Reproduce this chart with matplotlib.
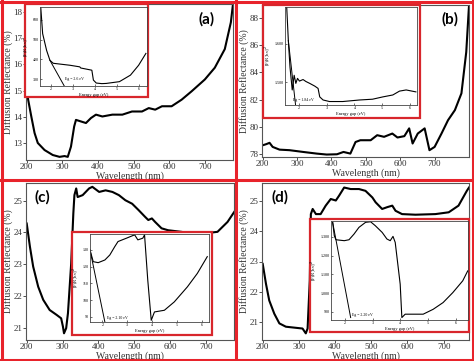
import matplotlib
matplotlib.use("Agg")
import matplotlib.pyplot as plt
from matplotlib.patches import Rectangle
from matplotlib.lines import Line2D

plt.rcParams['font.family'] = ['Liberation Serif', 'DejaVu Serif']

W, H = 474, 361
RED = '#e8232b'

# ---- panel (a) ----
wl_a = [200, 204, 213, 222, 231, 250, 273, 292, 306, 315, 324, 333, 338, 352, 366, 380, 394,
        412, 440, 468, 495, 523, 542, 560, 579, 606, 634, 662, 699, 727, 755, 772, 778]
r_a = [15.23, 14.65, 14.0, 13.38, 13.0, 12.73, 12.54, 12.47, 12.5, 12.47, 12.86, 13.63, 13.88,
       13.82, 13.76, 13.95, 14.08, 14.01, 14.08, 14.08, 14.2, 14.2, 14.33, 14.27, 14.4, 14.4,
       14.65, 14.97, 15.42, 15.87, 16.58, 17.6, 18.3]
ev_a = [1.53, 1.62, 1.8, 1.95, 2.1, 2.86, 3.3, 3.35, 3.4, 3.85, 3.92, 4.05, 4.3, 4.5, 5.1, 5.6,
        5.97, 6.3]
f_a = [670, 530, 445, 395, 380, 370, 362, 356, 355, 345, 295, 280, 277, 278, 287, 320, 370, 430]
tan_a_x = [1.95, 2.6]
tan_a_y = [395, 265]

# ---- panel (b) ----
wl_b = [200, 210, 220, 229, 249, 278, 318, 357, 386, 416, 435, 455, 470, 484, 514, 533, 553,
        577, 592, 612, 626, 636, 651, 671, 685, 700, 720, 739, 759, 778, 792, 800]
r_b = [78.66, 78.74, 78.84, 78.54, 78.34, 78.3, 78.17, 78.05, 77.98, 78.0, 78.17, 78.05, 78.9,
       79.03, 79.03, 79.4, 79.28, 79.52, 79.23, 79.33, 79.9, 78.79, 79.52, 79.9, 78.3, 78.54,
       79.52, 80.5, 81.24, 82.47, 85.5, 88.9]
ev_b = [1.56, 1.62, 1.68, 1.76, 1.83, 1.89, 1.95, 2.02, 2.15, 2.25, 2.39, 2.57, 2.69, 2.75,
        2.87, 3.1, 3.58, 4.18, 4.65, 5.02, 5.38, 5.62, 5.86, 6.21]
f_b = [1.697, 1.608, 1.539, 1.48, 1.518, 1.497, 1.51, 1.503, 1.507, 1.502, 1.497, 1.49, 1.484,
       1.462, 1.454, 1.45, 1.45, 1.454, 1.456, 1.462, 1.467, 1.477, 1.48, 1.475]
tan_b_x = [1.62, 1.88]
tan_b_y = [1.608, 1.441]

# ---- panel (c) ----
wl_c = [200, 209, 218, 232, 246, 264, 283, 296, 301, 304, 310, 315, 324, 330, 333, 338, 342,
        356, 374, 383, 402, 420, 439, 457, 475, 494, 512, 530, 539, 549, 558, 576, 594, 631,
        659, 695, 732, 760, 779]
r_c = [24.28, 23.55, 22.93, 22.3, 21.89, 21.57, 21.42, 21.31, 21.05, 20.84, 21.0, 21.47, 23.03,
       24.6, 25.17, 25.38, 25.11, 25.17, 25.38, 25.43, 25.27, 25.32, 25.27, 25.17, 25.01, 24.9,
       24.7, 24.49, 24.39, 24.44, 24.33, 24.13, 24.07, 24.02, 23.97, 23.97, 24.02, 24.33, 24.65]
ev_c = [1.5, 1.63, 1.83, 2.1, 2.3, 2.5, 2.63, 2.97, 3.3, 3.43, 3.63, 3.7, 3.83, 3.97, 4.1, 4.5,
        4.9, 5.43, 5.83, 6.23]
f_c = [130, 123, 122.4, 124, 127, 132, 135, 137, 139, 136, 137, 139, 112, 88, 93, 94, 99, 108,
       116, 126]
tan_c_x = [1.5, 2.1]
tan_c_y = [130, 87]

# ---- panel (d) ----
wl_d = [200, 209, 218, 232, 246, 264, 287, 310, 319, 324, 330, 333, 338, 347, 360, 374, 388,
        402, 411, 425, 443, 466, 484, 503, 512, 530, 544, 558, 567, 585, 622, 677, 714, 741,
        764, 770]
r_d = [22.92, 22.26, 21.71, 21.27, 20.95, 20.84, 20.81, 20.78, 20.62, 20.78, 22.37, 24.57, 24.74,
       24.57, 24.57, 24.85, 25.07, 25.02, 25.18, 25.45, 25.4, 25.4, 25.34, 25.12, 24.96, 24.74,
       24.8, 24.85, 24.68, 24.57, 24.55, 24.57, 24.63, 24.85, 25.34, 25.45]
ev_d = [1.56, 1.62, 1.68, 1.98, 2.15, 2.33, 2.51, 2.75, 2.93, 3.1, 3.35, 3.52, 3.64, 3.74, 3.82,
        4.0, 4.06, 4.18, 4.48, 4.83, 5.19, 5.55, 5.9, 6.26, 6.44]
f_d = [1378, 1306, 1285, 1280, 1285, 1315, 1351, 1378, 1381, 1360, 1324, 1289, 1280, 1303, 1271,
       1048, 870, 888, 888, 888, 914, 950, 1003, 1066, 1119]
tan_d_x = [1.56, 2.21]
tan_d_y = [1378, 870]


def px(l, t, r, b):
    return [l / W, 1 - b / H, (r - l) / W, (b - t) / H]


def main_axes(rect, x, y, xlim, ylim, yticks, tag, tagpos):
    ax = fig.add_axes(px(*rect))
    ax.plot(x, y, color='black', lw=1.5)
    ax.set_xlim(*xlim)
    ax.set_ylim(*ylim)
    ax.set_xticks([200, 300, 400, 500, 600, 700])
    ax.set_yticks(yticks)
    ax.tick_params(labelsize=6.5, length=2, width=0.6, pad=0.5, colors='#333')
    for s in ax.spines.values():
        s.set_color('#555')
        s.set_linewidth(0.8)
    ax.set_xlabel('Wavelength (nm)', fontsize=7, labelpad=0, color='#333')
    ax.set_ylabel('Diffusion Reflectance (%)', fontsize=7, labelpad=0.5, color='#333')
    fig.text(tagpos[0] / W, 1 - tagpos[1] / H, tag, fontsize=11, fontweight='bold',
             family='Lato', ha='center', va='center')
    return ax


def inset(rect, box, x, y, tx, ty, xlim, ylim, yticks, ylabels, eg, egpos):
    l, t, r, b = box
    fig.add_artist(Rectangle((l / W, 1 - b / H), (r - l) / W, (b - t) / H,
                             transform=fig.transFigure, facecolor='white',
                             edgecolor='#d8262c', lw=1.6, zorder=1))
    ax = fig.add_axes(px(*rect), zorder=2)
    ax.plot(x, y, color='black', lw=0.8)
    ax.plot(tx, ty, color='black', lw=0.7)
    ax.set_xlim(*xlim)
    ax.set_ylim(*ylim)
    ax.set_xticks([2, 3, 4, 5, 6])
    ax.set_yticks(yticks)
    ax.set_yticklabels(ylabels)
    ax.tick_params(labelsize=3, length=1.5, width=0.4, pad=1, direction='in')
    for s in ax.spines.values():
        s.set_color('#444')
        s.set_linewidth(0.6)
    ax.set_xlabel('Energy gap (eV)', fontsize=3.2, labelpad=1)
    ax.set_ylabel('[F(R)h\u03bd]$^2$', fontsize=3.5, labelpad=1)
    ax.text(egpos[0], egpos[1], eg, fontsize=2.8)
    return ax


fig = plt.figure(figsize=(W / 100, H / 100), dpi=100)

main_axes((26, 4, 233, 160), wl_a, r_a, (198, 778), (12.35, 18.3), [13, 14, 15, 16, 17, 18],
          '(a)', (207, 19))
inset((40, 7, 147, 86), (25, 4, 148, 97), ev_a, f_a, tan_a_x, tan_a_y, (1.5, 6.35), (265, 665),
      [300, 400, 500, 600], ['300', '400', '500', '600'], 'Eg = 2.6 eV', (2.65, 295))

main_axes((262, 5, 469, 157), wl_b, r_b, (198, 800), (77.8, 88.95), [78, 80, 82, 84, 86, 88],
          '(b)', (450, 19))
inset((285, 7, 417, 105), (263, 5, 420, 118), ev_b, f_b, tan_b_x, tan_b_y, (1.5, 6.25),
      (1.441, 1.695), [1.5, 1.6], ['1.500', '1.600'], 'Eg = 1.84 eV', (1.78, 1.452))

main_axes((26, 183, 234, 340), wl_c, r_c, (198, 778), (20.63, 25.55), [21, 22, 23, 24, 25],
          '(c)', (42, 197))
inset((90, 234, 209, 322), (72, 232, 212, 335), ev_c, f_c, tan_c_x, tan_c_y, (1.5, 6.3),
      (87, 139.5), [90, 100, 110, 120, 130], ['90', '100', '110', '120', '130'],
      'Eg = 2.10 eV', (2.2, 89))

main_axes((262, 183, 469, 340), wl_d, r_d, (198, 770), (20.4, 25.6), [21, 22, 23, 24, 25],
          '(d)', (280, 197))
inset((331, 221, 468, 320), (310, 219, 469, 332), ev_d, f_d, tan_d_x, tan_d_y, (1.5, 6.45),
      (857, 1385), [900, 1000, 1100, 1200, 1300], ['900', '1.000', '1.100', '1.200', '1.300'],
      'Eg = 2.20 eV', (2.25, 880))

# red frame and dividers
for xs, ys in [((1.5, 1.5), (0, H)), ((472.5, 472.5), (0, H)), ((0, W), (1.5, 1.5)),
               ((0, W), (359.5, 359.5)), ((236, 236), (0, H)), ((0, W), (180, 180))]:
    fig.add_artist(Line2D([v / W for v in xs], [1 - v / H for v in ys],
                          transform=fig.transFigure, color=RED, lw=2.2, zorder=5))

fig.savefig('out.png', dpi=100, facecolor='white')
